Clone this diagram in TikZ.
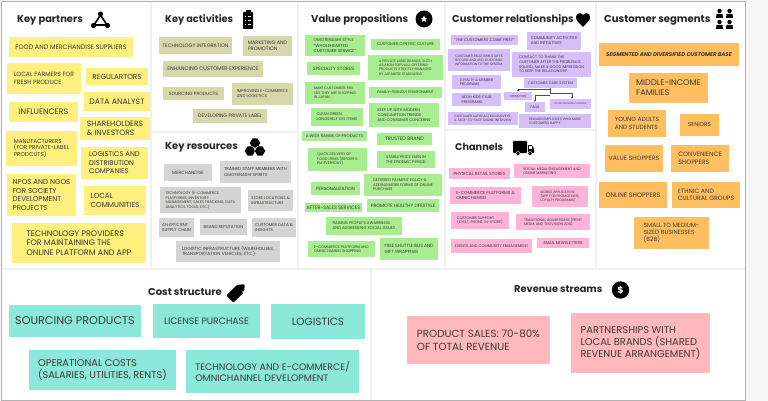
\documentclass[tikz,border=0pt]{standalone}
\usepackage{fontspec}
\setmainfont{Poppins}
\usetikzlibrary{shapes.geometric,arrows.meta}
\definecolor{ink}{HTML}{3A3A32}
\definecolor{cyel}{HTML}{FDF07E}
\definecolor{coli}{HTML}{D6D7AB}
\definecolor{cgry}{HTML}{D4D4D4}
\definecolor{cgrn}{HTML}{A8EE90}
\definecolor{cpur}{HTML}{D6BEFA}
\definecolor{cpnk}{HTML}{FFB3D9}
\definecolor{corg}{HTML}{FFBF60}
\definecolor{ctea}{HTML}{8BE8DA}
\definecolor{cros}{HTML}{FFB8BC}
\tikzset{
  cardbox/.style={inner sep=0pt,align=left,text=ink,anchor=center},
  ttl/.style={anchor=west,inner sep=0pt,text=black!85},
  cell/.style={draw=black!6,line width=1.2pt},
  link/.style={draw=black!70,line width=.5pt,-{Stealth[length=2pt,width=2pt]}},
}
\newcommand{\card}[8]{%
  \pgfmathsetmacro{\ccx}{(#2+#4)/2}\pgfmathsetmacro{\ccy}{(#3+#5)/2}%
  \pgfmathsetmacro{\ccw}{#4-#2}\pgfmathsetmacro{\cch}{#5-#3}%
  \pgfmathsetmacro{\ccl}{#7*1.22}%
  \node[cardbox,fill=#6,minimum width=\ccw pt,minimum height=\cch pt,
    font=\fontsize{#7}{\ccl}\selectfont] (#1) at (\ccx,\ccy) {#8};}
\newcommand{\heading}[5]{\node[ttl,font=\fontsize{#4}{#4}\selectfont\bfseries] (#1) at (#2,#3) {#5};}
\begin{document}
\begin{tikzpicture}[x=1pt,y=-1pt]
\useasboundingbox (0,0) rectangle (768,401);
\fill[black!3] (0,0) rectangle (768,401);
\fill[white] (1,1) rectangle (745,400);
% cell lines
\draw[cell] (151,1) -- (151,269);
\draw[cell] (298,1) -- (298,269);
\draw[cell] (445,1) -- (445,269);
\draw[cell] (596,1) -- (596,269);
\draw[cell] (1,269) -- (745,269);
\draw[cell] (151,132) -- (298,132);
\draw[cell] (445,130) -- (596,130);
\draw[cell] (371,269) -- (371,400);
\draw[black!30,line width=.8pt] (1,1) rectangle (745,400);
% headings
\heading{h1}{17}{20}{9.9}{Key partners}
\heading{h2}{165}{20}{9.8}{Key activities}
\heading{h3}{165}{147}{10}{Key resources}
\heading{h4}{311}{20}{10}{Value propositions}
\heading{h5}{452}{20}{10}{Customer relationships}
\heading{h6}{455}{147}{9.7}{Channels}
\heading{h7}{604}{20}{10.1}{Customer segments}
\heading{h8}{148}{291.5}{10}{Cost structure}
\heading{h9}{514}{289}{9.8}{Revenue streams}
% Key partners
\card{a1}{9}{37}{133}{57}{cyel}{6.4}{FOOD AND MERCHANDISE SUPPLIERS}
\card{a2}{7}{63}{81}{94}{cyel}{6.1}{LOCAL FARMERS FOR\\FRESH PRODUCE}
\card{a3}{86}{68}{148}{85}{cyel}{7.2}{REGULARTORS}
\card{a4}{84}{92}{150}{111}{cyel}{7.8}{DATA ANALYST}
\card{a5}{9}{102}{78}{122}{cyel}{7.9}{INFLUENCERS}
\card{a6}{80}{117}{150}{140}{cyel}{7.6}{SHAREHOLDERS\\\& INVESTORS}
\card{a7}{6}{131}{77}{166}{cyel}{5.7}{MANUFACTURERS\\(FOR PRIVATE-LABEL\\PRODCUTS)}
\card{a8}{81}{147}{148}{179}{cyel}{6.9}{LOGISTICS AND\\DISTRIBUTION\\COMPANIES}
\card{a9}{7}{174}{76}{216}{cyel}{7.1}{NPOS AND NGOS\\FOR SOCIETY\\DEVELOPMENT\\PROJECTS}
\card{a10}{84}{186}{146}{215}{cyel}{7.2}{LOCAL\\COMMUNITIES}
\card{a11}{12}{223}{146}{263}{cyel}{8}{TECHNOLOGY PROVIDERS\\FOR MAINTAINING THE\\ONLINE PLATFORM AND APP}
% Key activities
\card{b1}{159}{37}{232}{54}{coli}{5}{TECHNOLOGY INTEGRATION}
\card{b2}{243}{36}{292}{56}{coli}{5}{MARKETING AND\\PROMOTION}
\card{b3}{163}{61}{263}{77}{coli}{5.3}{ENHANCING CUSTOMER EXPERIENCE}
\card{b4}{163}{87}{224}{100}{coli}{4.6}{SOURCING PRODUCTS}
\card{b5}{232}{83}{293}{105}{coli}{4.1}{IMPROVING E-COMMERCE\\AND LOGISTICS}
\card{b6}{193}{109}{267}{123}{coli}{4.9}{DEVELOPING PRIVATE LABEL}
% Key resources
\card{c1}{164}{164}{212}{181}{cgry}{4.6}{MERCHANDISE}
\card{c2}{220}{161}{291}{183}{cgry}{4.3}{TRAINED STAFF MEMBERS WITH\\OMOTENASHI SPIRITS}
\card{c3}{160}{187}{241}{213}{cgry}{3.8}{TECHNOLOGY (E-COMMERCE\\PLATFORMS, INVENTORY\\MANAGEMENT, SALES TRACKING, DATA\\ANALYTICS TOOLS, ETC.)}
\card{c4}{248}{190}{293}{211}{cgry}{3.9}{STORE LOCATIONS \&\\INFRASTRUCTURE}
\card{c5}{159}{218}{194}{237}{cgry}{4.2}{AN EFFICIENT\\SUPPLY CHAIN}
\card{c6}{200}{219}{247}{235}{cgry}{4.2}{BRAND REPUTATION}
\card{c7}{252}{218}{296}{237}{cgry}{4.1}{CUSTOMER DATA \&\\INSIGHTS}
\card{c8}{176}{241}{280}{262}{cgry}{4.5}{LOGISTIC INFRASTRUCTURE (WAREHOUSES,\\TRANSPORTATION VEHICLES, ETC.)}
% Value propositions
\card{d1}{305}{35}{365}{56}{cgrn}{4.3}{OMOTENASHI STYLE\\"WHOLEHEARTED\\CUSTOMER SERVICE"}
\card{d2}{371}{39}{440}{50}{cgrn}{4}{CUSTOMER CENTRIC CULTURE}
\card{d3}{307}{62}{360}{75}{cgrn}{4.7}{SPECIALTY STORES}
\card{d4}{368}{55}{443}{80}{cgrn}{3.5}{A PRIVATE LABEL BRANDS, SUCH\\AS AEON TOPVALU, OFFERING\\PRODUCTS STRICTLY MANAGED\\BY JAPANESE STANDARDS}
\card{d5}{305}{82}{365}{104}{cgrn}{3.6}{MAKE CUSTOMERS FEEL\\LIKE THEY ARE SHOPPING\\IN JAPAN}
\card{d6}{369}{87}{442}{98}{cgrn}{3.7}{FAMILY-FRIENDLY ENVIRONMENT}
\card{d7}{311}{108}{363}{126}{cgrn}{3.9}{CLEAN GREEN,\\LONGSHELF LIFE ITEMS}
\card{d8}{369}{103}{439}{127}{cgrn}{3.9}{KEEP UP WITH MODERN\\CONSUMPTION TRENDS\\AND CONSUMER CONCERNS}
\card{d9}{302}{131}{367}{141}{cgrn}{4.1}{A WIDE RANGE OF PRODUCTS}
\card{d10}{377}{133}{432}{145}{cgrn}{5}{TRUSTED BRAND}
\card{d11}{308}{148}{367}{171}{cgrn}{3.7}{QUICK DELIVERY OF\\FOOD ITEMS (BEFORE 6\\PM EVERYDAY)}
\card{d12}{377}{151}{435}{168}{cgrn}{3.9}{STABLE PRICE EVEN IN\\THE EPIDEMIC PERIOD}
\card{d13}{364}{174}{442}{196}{cgrn}{3.8}{DEFERRED PAYMENT POLICY \&\\ADDING MORE FORMS OF ONLINE\\PURCHASE}
\card{d14}{311}{182}{360}{195}{cgrn}{4.5}{PERSONALIZATION}
\card{d15}{305}{203}{362}{212}{cgrn}{4.9}{AFTER-SALES SERVICES}
\card{d16}{367}{199}{439}{212}{cgrn}{4.7}{PROMOTE HEALTHY LIFESTYLE}
\card{d17}{326}{217}{402}{235}{cgrn}{4}{RAISING PEOPLE'S AWARENESS\\AND ADDRESSING SOCIAL ISSUES}
\card{d18}{308}{241}{375}{257}{cgrn}{3.8}{E-COMMERCE PLATFORM AND\\OMNICHANNEL SHOPPING}
\card{d19}{380}{238}{438}{260}{cgrn}{4.5}{FREE SHUTTLE BUS AND\\GIFT WRAPPING}
% Customer relationships
\card{e1}{451}{35}{518}{45}{cpur}{4.1}{"\textit{THE CUSTOMERS COME FIRST}"}
\card{e2}{527}{32}{581}{50}{cpur}{4.1}{COMMUNITY ACTIVITIES\\AND INITIATIVES}
\card{e3}{448}{49}{510}{71}{cpur}{3.3}{CUSTOMER RELATIONS STAFFS\\RECORD AND ADD CUSTOMER\\INFORMATION TO THE SYSTEM}
\card{e4}{512}{52}{591}{77}{cpur}{3.8}{CONTACT TO THANK THE\\CUSTOMER AFTER THE PROBLEM IS\\SOLVED, MAKE A GOOD IMPRESSION\\TO KEEP THE RELATIONSHIP}
\card{e5}{452}{75}{501}{89}{cpur}{3.6}{LOYALTY \& MEMBER\\PROGRAMS}
\card{e6}{524}{78}{577}{88}{cpur}{3.7}{CUSTOMER CARE SYSTEM}
\card{e7}{452}{93}{501}{106}{cpur}{3.8}{AEON KIDS CLUB\\PROGRAMS}
\card{e8}{504}{92}{532}{100}{cpur}{2.9}{OPERATORS}
\card{e9}{525}{102}{545}{112}{cpur}{3.5}{FAQS}
\card{e10}{550}{99}{591}{109}{cpur}{2.3}{SOCIAL NETWORK CHANNELS}
\card{e11}{448}{112}{518}{125}{cpur}{3.3}{CUSTOMER SATISFACTION SURVEYS\\\& FACE-TO-FACE ONLINE INTERVIEW}
\card{e12}{519}{114}{591}{128}{cpur}{3.4}{REWARD EMPLOYEES WHO MAKE\\CUSTOMERS HAPPY}
\coordinate (j1) at (550,93);
\coordinate (j2) at (550,95);
\draw[link] (e6.south -| j1) |- (518,89.5) -- (e8.north -| 518,0);
\draw[link] (j1 |- e6.south) -- (j1) -| (e10.north -| 572,0);
\draw[link] (j2) -| (e9.north -| 535,0);
% Channels
\card{f1}{449}{168}{510}{179}{cpnk}{4.4}{PHYSICAL RETAIL STORES}
\card{f2}{514}{164}{590}{178}{cpnk}{3.6}{SOCIAL MEDIA ENGAGEMENT AND\\ONLINE MARKETING}
\card{f3}{450}{187}{521}{204}{cpnk}{4.3}{E-COMMERCE PLATFORMS \&\\OMNICHANNEL}
\card{f4}{532}{186}{588}{207}{cpnk}{3.4}{MOBILE APPLICATION\\(APP FOR PROMOTIONS,\\LOYALTY PROGRAMS)}
\card{f5}{451}{212}{509}{229}{cpnk}{3.7}{CUSTOMER SUPPORT\\(CHAT, PHONE, IN-STORE)}
\card{f6}{516}{214}{590}{230}{cpnk}{3.6}{TRADITIONAL ADVERTISING (PRINT\\MEDIA AND TELEVISION ADS)}
\card{f7}{451}{239}{532}{253}{cpnk}{3.85}{EVENTS AND COMMUNITY ENGAGEMENT}
\card{f8}{537}{238}{589}{248}{cpnk}{4.1}{EMAIL NEWSLETTERS}
% Customer segments
\card{g1}{599}{43}{739}{66}{corg}{5.4}{\textbf{\textit{SEGMENTED AND DIVERSIFIED CUSTOMER BASE}}}
\card{g2}{629}{73}{708}{103}{corg}{8.2}{MIDDLE-INCOME\\FAMILIES}
\card{g3}{608}{110}{666}{137}{corg}{6}{YOUNG ADULTS\\AND STUDENTS}
\card{g4}{680}{114}{719}{136}{corg}{5.7}{SENIORS}
\card{g5}{605}{145}{663}{172}{corg}{6.2}{VALUE SHOPPERS}
\card{g6}{671}{145}{729}{172}{corg}{6.3}{CONVENIENCE\\SHOPPERS}
\card{g7}{599}{182}{667}{208}{corg}{6.4}{ONLINE SHOPPERS}
\card{g8}{672}{182}{740}{208}{corg}{6.2}{ETHNIC AND\\CULTURAL GROUPS}
\card{g9}{634}{217}{709}{249}{corg}{6}{SMALL TO MEDIUM-\\SIZED BUSINESSES\\(B2B)}
% Cost
\card{i1}{9}{305}{141}{337}{ctea}{11.2}{SOURCING PRODUCTS}
\card{i2}{153}{304}{260}{338}{ctea}{9.3}{LICENSE PURCHASE}
\card{i3}{271}{304}{365}{339}{ctea}{10.5}{LOGISTICS}
\card{i4}{29}{350}{176}{390}{ctea}{9.8}{OPERATIONAL COSTS\\(SALARIES, UTILITIES, RENTS)}
\card{i5}{186}{350}{359}{393}{ctea}{9.4}{TECHNOLOGY AND E-COMMERCE/\\OMNICHANNEL DEVELOPMENT}
% Revenue
\card{k1}{407}{316}{550}{364}{cros}{10.3}{PRODUCT SALES: 70-80\%\\OF TOTAL REVENUE}
\card{k2}{571}{313}{710}{373}{cros}{9.9}{PARTNERSHIPS WITH\\LOCAL BRANDS (SHARED\\REVENUE ARRANGEMENT)}
% Icons
\draw[black,line width=1.6pt,line join=round] (100.5,15) -- (94,25) -- (107,25) -- cycle;
\fill (100.5,14) circle (2.6) (93.5,25.5) circle (2.6) (107.5,25.5) circle (2.6);
\fill[rounded corners=.8pt] (243,12) rectangle (253,29);
\fill (245.5,10.5) rectangle (250.5,13.5);
\foreach \yy in {16,20,24}{\draw[white,line width=.6pt] (245,\yy) -- (246,\yy) (247.5,\yy) -- (251,\yy);}
\foreach \hx/\hy in {255/143,250/151,260/151}{\node[regular polygon,regular polygon sides=6,fill=black,draw=white,line width=.3pt,minimum size=11pt,inner sep=0pt] at (\hx,\hy) {};}
\fill (424,19) circle (8.5);
\node[star,star points=5,star point ratio=2.2,fill=white,minimum size=7pt,inner sep=0pt] at (424,19) {};
\fill (583,27) .. controls (578,22) and (576,20) .. (576,17) .. controls (576,13) and (581,12) .. (583,15) .. controls (585,12) and (590,13) .. (590,17) .. controls (590,20) and (588,22) .. (583,27) -- cycle;
\fill[rounded corners=.8pt] (513,141) rectangle (527,153);
\fill[rounded corners=.6pt] (528,145) -- (532,145) -- (534,149) -- (534,153) -- (528,153) -- cycle;
\fill[white] (529,146) rectangle (531.5,148.5);
\fill[draw=white,line width=.4pt] (518,153.5) circle (2) (530,153.5) circle (2);
\foreach \px/\py in {719.5/11,729.5/11,719.5/22,729.5/22}{
  \fill (\px,\py) circle (2.2);
  \fill (\px-3.5,\py+7) -- (\px-3,\py+3) -- (\px+3,\py+3) -- (\px+3.5,\py+7) -- cycle;
}
\fill[rotate around={45:(237,292)},rounded corners=1pt] (227,287) -- (242,287) -- (248,292) -- (242,297) -- (227,297) -- cycle;
\fill[white] (243,292) circle (1);
\fill (620.5,290) circle (8.7);
\node[text=white,inner sep=0pt,font=\fontsize{9}{9}\selectfont\bfseries] (dollar) at (620.5,290) {\$};
\end{tikzpicture}
\end{document}
